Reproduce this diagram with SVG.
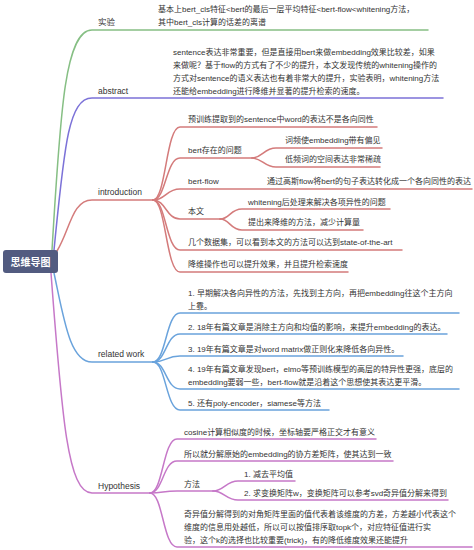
<svg xmlns="http://www.w3.org/2000/svg" width="474" height="550" viewBox="0 0 474 550">
<style>
text{font-family:'Liberation Sans','Noto Sans CJK SC',sans-serif;fill:#333}
.t{font-size:8px}
.lbl{font-size:8.5px}
.root{font-size:10px;font-weight:bold;fill:#fff}
path{fill:none;stroke-width:1.5;stroke-linecap:round}
.g{stroke:#86bf84}.p{stroke:#7c72d8}.r{stroke:#d47b7b}.b{stroke:#6aa3dc}.m{stroke:#c678c8}
</style>
<rect width="474" height="550" fill="#fff"/>
<g id="connectors">
<path class="g" d="M52,250 C60,120 64,30 92,30 H428"/>
<path class="p" d="M54,250 C64,150 68,98 92,98 H443"/>
<path class="r" d="M57,251 C70,230 72,200 92,200 H153"/>
<path class="r" d="M153,200 C166,200 166,127 180,127 H377"/>
<path class="r" d="M153,200 C166,200 166,158 180,158 H252"/>
<path class="r" d="M252,158 C262,158 264,148 276,148 H382"/>
<path class="r" d="M252,158 C262,158 264,167 276,167 H380"/>
<path class="r" d="M153,200 C166,200 166,189 180,189 H472"/>
<path class="r" d="M153,200 C166,200 166,219 180,219 H220"/>
<path class="r" d="M220,219 C230,219 230,209 242,209 H390"/>
<path class="r" d="M220,219 C230,219 230,230 242,230 H363"/>
<path class="r" d="M153,200 C166,200 166,250 180,250 H402"/>
<path class="r" d="M153,200 C166,200 166,272 180,272 H348"/>
<path class="b" d="M54,273 C64,320 70,362 92,362 H153"/>
<path class="b" d="M153,362 C166,362 166,313 180,313 H459"/>
<path class="b" d="M153,362 C166,362 166,334 180,334 H447"/>
<path class="b" d="M153,362 C166,362 166,356 180,356 H403"/>
<path class="b" d="M153,362 C166,362 166,389 180,389 H459"/>
<path class="b" d="M153,362 C166,362 166,410 180,410 H329"/>
<path class="m" d="M51,273 C62,420 68,493 92,493 H150"/>
<path class="m" d="M150,493 C163,493 163,439 177,439 H376"/>
<path class="m" d="M150,493 C163,493 163,461 177,461 H393"/>
<path class="m" d="M150,493 C163,493 163,491 177,491 H213"/>
<path class="m" d="M213,491 C224,491 226,481 238,481 H295"/>
<path class="m" d="M213,491 C224,491 226,500 238,500 H448"/>
<path class="m" d="M150,493 C163,493 163,547 177,547 H472"/>
</g>
<g id="root">
<rect x="3" y="250" width="55" height="23" rx="3" fill="#525b80"/>
<text class="root" x="30.5" y="265.5" text-anchor="middle">思维导图</text>
</g>
<g id="shiyan">
<text class="lbl" x="98" y="25">实验</text>
<text class="t" x="158" y="12">基本上bert_cls特征&lt;bert的最后一层平均特征&lt;bert-flow&lt;whitening方法，</text>
<text class="t" x="158" y="25">其中bert_cls计算的话差的离谱</text>
</g>
<g id="abstract">
<text class="lbl" x="98" y="94">abstract</text>
<text class="t" x="173" y="54.5">sentence表达非常重要，但是直接用bert来做embedding效果比较差，如果</text>
<text class="t" x="173" y="67.5">来做呢？基于flow的方式有了不少的提升，本文发现传统的whitening操作的</text>
<text class="t" x="173" y="80.5">方式对sentence的语义表达也有着非常大的提升，实验表明，whitening方法</text>
<text class="t" x="173" y="93.5">还能给embedding进行降维并显著的提升检索的速度。</text>
</g>
<g id="introduction">
<text class="lbl" x="98" y="195">introduction</text>
<text class="t" x="188" y="121.5">预训练提取到的sentence中word的表达不是各向同性</text>
<text class="t" x="188" y="153">bert存在的问题</text>
<text class="t" x="285" y="143">词频使embedding带有偏见</text>
<text class="t" x="285" y="162">低频词的空间表达非常稀疏</text>
<text class="t" x="188" y="184">bert-flow</text>
<text class="t" x="267" y="184">通过高斯flow将bert的句子表达转化成一个各向同性的表达</text>
<text class="t" x="188" y="214">本文</text>
<text class="t" x="248" y="205">whitening后处理来解决各项异性的问题</text>
<text class="t" x="248" y="225">提出来降维的方法，减少计算量</text>
<text class="t" x="188" y="245">几个数据集，可以看到本文的方法可以达到state-of-the-art</text>
<text class="t" x="188" y="267">降维操作也可以提升效果，并且提升检索速度</text>
</g>
<g id="related-work">
<text class="lbl" x="98" y="357">related work</text>
<text class="t" x="188" y="296">1. 早期解决各向异性的方法，先找到主方向，再把embedding往这个主方向</text>
<text class="t" x="188" y="308.5">上靠。</text>
<text class="t" x="188" y="330">2. 18年有篇文章是消除主方向和均值的影响，来提升embedding的表达。</text>
<text class="t" x="188" y="352">3. 19年有篇文章是对word matrix做正则化来降低各向异性。</text>
<text class="t" x="188" y="372">4. 19年有篇文章发现bert，elmo等预训练模型的高层的特异性更强，底层的</text>
<text class="t" x="188" y="385">embedding要弱一些，bert-flow就是沿着这个思想使其表达更平滑。</text>
<text class="t" x="188" y="406">5. 还有poly-encoder，siamese等方法</text>
</g>
<g id="hypothesis">
<text class="lbl" x="98" y="489">Hypothesis</text>
<text class="t" x="184" y="435">cosine计算相似度的时候，坐标轴要严格正交才有意义</text>
<text class="t" x="184" y="456.5">所以就分解原始的embedding的协方差矩阵，使其达到一致</text>
<text class="t" x="184" y="487">方法</text>
<text class="t" x="244" y="477">1. 减去平均值</text>
<text class="t" x="244" y="496">2. 求变换矩阵w，变换矩阵可以参考svd奇异值分解来得到</text>
<text class="t" x="184" y="517">奇异值分解得到的对角矩阵里面的值代表着该维度的方差，方差越小代表这个</text>
<text class="t" x="184" y="530">维度的信息用处越低，所以可以按值排序取topk个，对应特征值进行实</text>
<text class="t" x="184" y="543">验，这个k的选择也比较重要(trick)，有的降低维度效果还能提升</text>
</g>
</svg>
